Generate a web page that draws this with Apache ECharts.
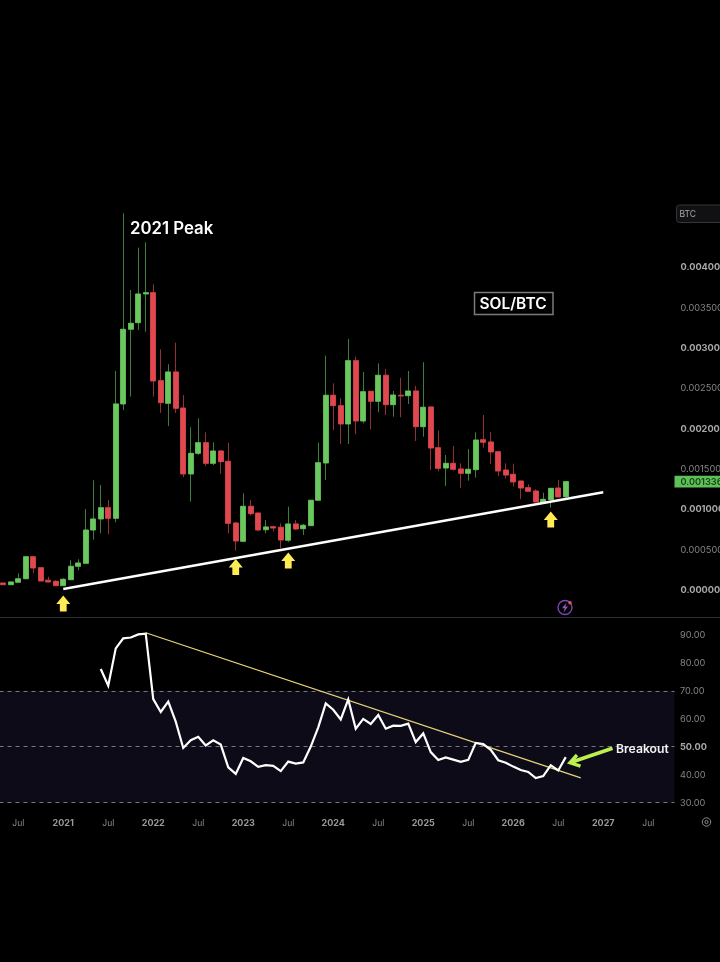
<!DOCTYPE html>
<html><head><meta charset="utf-8">
<style>html,body{margin:0;padding:0;background:#000}#c{width:720px;height:962px}</style>
<script src="https://cdn.jsdelivr.net/npm/echarts@6/dist/echarts.min.js"></script>
</head><body><div id="c"></div>
<script>
// Monthly SOL/BTC candles from May 2020; values in micro-BTC (1e-6 BTC)
const openP=[78,57,87,131,404,268,112,99,45,119,285,322,735,872,1012,880,2298,3224,3306,3662,3678,2587,2306,2695,2248,1430,1686,1818,1562,1715,1587,822,595,1029,946,739,776,769,608,810,751,789,1104,1566,2406,2277,2050,2835,2087,2455,2331,2654,2289,2406,2401,2459,2016,2261,1756,1504,1562,1492,1438,1483,1855,1827,1706,1479,1426,1343,1260,1219,1066,1111,1256,1148];
const closeP=[57,91,131,404,264,103,91,45,124,285,326,735,872,1012,880,2298,3224,3298,3662,3678,2583,2314,2695,2244,1430,1686,1818,1562,1715,1582,818,599,1029,937,735,773,760,611,810,748,794,1104,1570,2406,2277,2050,2835,2087,2450,2331,2654,2289,2409,2397,2459,2016,2257,1752,1500,1562,1488,1438,1488,1851,1823,1703,1467,1417,1331,1256,1215,1083,1116,1252,1145,1336];
const lowP=[57,57,87,131,198,103,87,45,45,119,236,322,615,694,682,831,2223,2388,3215,3194,2388,2186,2025,2186,1389,1086,1665,1529,1541,1430,694,479,583,913,719,694,719,508,587,735,673,789,1104,1355,1975,1802,1802,1922,2058,1984,2195,2161,2140,2133,2298,1839,1892,1479,1463,1281,1471,1256,1347,1384,1756,1554,1405,1376,1272,1120,1215,1083,1058,1012,1145,1136];
const highP=[78,91,198,413,413,268,156,112,136,360,372,996,1352,1293,1107,2707,4662,3711,4236,4303,3782,2976,2790,3058,2409,2009,2120,1947,1823,1727,1818,838,1190,1107,946,859,789,818,1024,859,810,1104,1818,2897,2554,2368,3104,2884,2695,2455,2802,2732,2459,2624,2707,2521,2815,2261,1967,1665,1777,1562,1740,1947,2161,1951,1706,1562,1557,1343,1302,1240,1198,1252,1355,1336];
// RSI (first 13 months have no reading)
const rsiValues=[null,null,null,null,null,null,null,null,null,null,null,null,null,77.8,71.8,85.2,88.8,89.1,90.2,90.5,67.0,62.4,66.1,58.9,49.5,52.3,53.5,50.4,52.2,50.7,42.5,40.2,45.9,44.7,42.7,43.3,43.1,41.2,44.6,43.9,44.3,50.0,56.9,65.5,63.2,59.7,66.9,56.4,59.9,58.1,61.3,56.4,57.5,57.4,58.2,51.6,54.7,48.0,45.2,46.1,45.3,44.5,45.2,51.3,50.9,48.8,45.1,44.2,42.8,41.6,40.9,38.7,39.4,43.3,41.4,46.2];
const priceTrend=[[8,4],[80,1203]];
const rsiTrend=[[19,90.8],[77,38.8]];
const arrowMarks=[[8,-176],[31,276],[38,357],[73,865]];
const xTicks=['Jul','2021','Jul','2022','Jul','2023','Jul','2024','Jul','2025','Jul','2026','Jul','2027','Jul'];
const months=Array.from({length:90},(_,i)=>{const m=4+i;return (2020+Math.floor(m/12))+'-'+String(m%12+1).padStart(2,'0');});
const priceTicks=[0,500,1000,1500,2000,2500,3000,3500,4000];
const rsiTicks=[30,40,50,60,70,80,90];
const lastPrice='0.001336';

const FONT='Inter';
const wickData=openP.map((o,i)=>[o,closeP[i],lowP[i],highP[i]]);
const bodyData=openP.map((o,i)=>[o,closeP[i],Math.min(o,closeP[i]),Math.max(o,closeP[i])]);
const GREEN='#6bc85f',RED='#e0474f',GW='#3f7d3c',RW='#8f3135';
const xLabel={show:true,inside:true,margin:2,interval:(i)=>(i-2)%6===0&&(i-2)>=0,
  formatter:(v,i)=>{const t=xTicks[(i-2)/6];return t?(t==='Jul'?'{j|'+t+'}':'{y|'+t+'}'):'';},
  rich:{j:{fontFamily:FONT,fontSize:8.5,color:'#8b8b8b'},y:{fontFamily:FONT,fontSize:9,fontWeight:700,color:'#9a9a9a'}}};

const chart=echarts.init(document.getElementById('c'),null,{renderer:'canvas'});
chart.setOption({
  animation:false,backgroundColor:'#000',
  grid:[{left:-0.5,width:675,top:186.05,height:443.55,outerBoundsMode:'none'},{left:-0.5,width:675,top:607.1,height:223.1,outerBoundsMode:'none'}],
  xAxis:[
    {type:'category',gridIndex:0,data:months,show:false},
    {type:'category',gridIndex:1,data:months,axisLine:{show:false},axisTick:{show:false},axisLabel:xLabel,splitLine:{show:false}}
  ],
  yAxis:[
    {type:'value',gridIndex:0,position:'right',min:-500,max:5000,interval:500,splitLine:{show:false},axisLine:{show:false},axisTick:{show:false},
     axisLabel:{margin:6,formatter:v=>{if(!priceTicks.includes(v))return '';const s=(v/1e6).toFixed(6);return v%1000===0?'{b|'+s+'}':'{n|'+s+'}';},
       rich:{b:{fontFamily:FONT,fontSize:9.2,fontWeight:700,color:'#a8a8a8',padding:[2,0,0,0]},n:{fontFamily:FONT,fontSize:9.2,color:'#858585',padding:[2,0,0,0]}}}},
    {type:'value',gridIndex:1,position:'right',min:20,max:100,interval:10,splitLine:{show:false},axisLine:{show:false},axisTick:{show:false},
     axisLabel:{margin:5.5,formatter:v=>{if(!rsiTicks.includes(v))return '';const s=v.toFixed(2);return v===50?'{b|'+s+'}':'{n|'+s+'}';},
       rich:{b:{fontFamily:FONT,fontSize:9.2,fontWeight:700,color:'#a8a8a8',padding:[1,0,0,0]},n:{fontFamily:FONT,fontSize:9.2,color:'#858585',padding:[1,0,0,0]}}}}
  ],
  series:[
    {name:'Wicks',type:'candlestick',xAxisIndex:0,yAxisIndex:0,data:wickData,barWidth:5.5,
     itemStyle:{color:GW,color0:RW,borderColor:GW,borderColor0:RW,borderWidth:1}},
    {name:'SOL/BTC',type:'candlestick',xAxisIndex:0,yAxisIndex:0,data:bodyData,barWidth:5.5,
     itemStyle:{color:GREEN,color0:RED,borderColor:GREEN,borderColor0:RED,borderWidth:0.5}},
    {name:'Support',type:'line',xAxisIndex:0,yAxisIndex:0,data:priceTrend,showSymbol:false,symbol:'none',z:5,
     lineStyle:{color:'#fff',width:2.4}},
    {name:'Touches',type:'scatter',xAxisIndex:0,yAxisIndex:0,data:arrowMarks,symbol:'path://M7 0 L14 8.5 L10.4 8.5 L10.4 16 L3.6 16 L3.6 8.5 L0 8.5 Z',symbolSize:[14,16],z:6,
     itemStyle:{color:'#ffec55',opacity:1}},
    {name:'RSI',type:'line',xAxisIndex:1,yAxisIndex:1,data:rsiValues,showSymbol:false,symbol:'none',z:4,
     lineStyle:{color:'#fff',width:2.2,join:'miter'},
     markArea:{silent:true,z:1,itemStyle:{color:'#0c0b17'},data:[[{yAxis:30},{yAxis:70}]]},
     markLine:{silent:true,symbol:'none',label:{show:false},z:2,lineStyle:{color:'#77777f',type:[4,4],width:1},data:[{yAxis:30},{yAxis:50},{yAxis:70}]}},
    {name:'RSI trend',type:'line',xAxisIndex:1,yAxisIndex:1,data:rsiTrend,showSymbol:false,symbol:'none',z:3,
     lineStyle:{color:'#e6d67c',width:1.3}}
  ],
  graphic:[
    {type:'line',z:50,silent:true,shape:{x1:0,y1:617.5,x2:720,y2:617.5},style:{stroke:'#2b2b33',lineWidth:1}},
    {type:'text',z:50,left:130,top:220,style:{text:'2021 Peak',fill:'#fff',fontFamily:FONT,fontSize:16.8,fontWeight:600}},
    {type:'rect',z:50,shape:{x:474.5,y:292.5,width:78.5,height:22},style:{fill:'#000',stroke:'#7b7b7b',lineWidth:1.5}},
    {type:'text',z:51,x:513,y:304,style:{text:'SOL/BTC',fill:'#fff',fontFamily:FONT,fontSize:15.5,fontWeight:600,align:'center',verticalAlign:'middle'}},
    {type:'rect',z:50,shape:{x:676.5,y:205,width:50,height:17.5,r:3},style:{fill:'#111113',stroke:'#34343a',lineWidth:1}},
    {type:'text',z:51,x:679.5,y:214,style:{text:'BTC',fill:'#a8a8a8',fontFamily:FONT,fontSize:8.5,verticalAlign:'middle'}},
    {type:'rect',z:50,shape:{x:674.5,y:475.7,width:46,height:11.8},style:{fill:'#5fbf58'}},
    {type:'text',z:51,x:680.5,y:481.8,style:{text:lastPrice,fill:'#16451a',fontFamily:FONT,fontSize:9.2,fontWeight:600,verticalAlign:'middle'}},
    {type:'text',z:50,x:616,y:749.5,style:{text:'Breakout',fill:'#f2f2f2',fontFamily:FONT,fontSize:12.2,fontWeight:600,verticalAlign:'middle'}},
    {type:'polyline',z:50,shape:{points:[[612.5,748.3],[572,762]]},style:{stroke:'#bdf04e',lineWidth:3.6,fill:null}},
    {type:'polyline',z:50,shape:{points:[[577,755],[570,762.8],[580.5,766.2]]},style:{stroke:'#bdf04e',lineWidth:3.4,fill:null}},
    {type:'circle',z:50,shape:{cx:565,cy:607.5,r:7},style:{fill:null,stroke:'#7a46b8',lineWidth:1.4}},
    {type:'polygon',z:50,shape:{points:[[566.5,602.5],[562,608.3],[564.7,608.3],[563.5,612.5],[568,606.5],[565.3,606.5]]},style:{fill:'#8c5ac8'}},
    {type:'circle',z:50,shape:{cx:570,cy:602.7,r:1.8},style:{fill:'#ea5050'}},
    {type:'circle',z:50,shape:{cx:706.5,cy:822,r:4.2},style:{fill:null,stroke:'#8c8c8c',lineWidth:1}},
    {type:'circle',z:50,shape:{cx:706.5,cy:822,r:1.6},style:{fill:null,stroke:'#8c8c8c',lineWidth:1}}
  ]
});
</script></body></html>
